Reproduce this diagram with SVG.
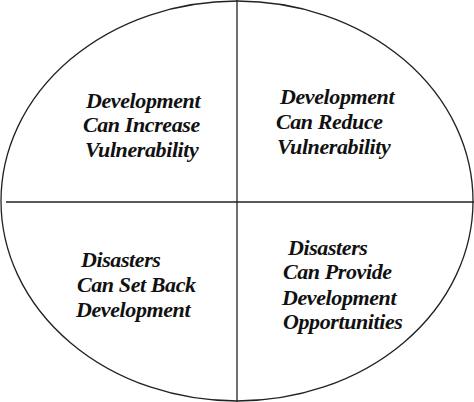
<svg xmlns="http://www.w3.org/2000/svg" width="474" height="402" viewBox="0 0 474 402">
<style>
.t{font-family:"Liberation Serif","Times New Roman",serif;font-weight:bold;font-style:italic;font-size:22px;letter-spacing:-0.4px;fill:#111}
.ln{stroke:#222;stroke-width:1.3;fill:none}
</style>
<rect width="474" height="402" fill="#fff"/>
<g id="connectors">
<ellipse class="ln" cx="237" cy="201" rx="236" ry="200"/>
<line class="ln" x1="237" y1="0" x2="237" y2="402"/>
<line class="ln" x1="6" y1="202" x2="474" y2="202"/>
</g>
<g id="q1">
<text class="t" x="86" y="108">Development</text>
<text class="t" x="83" y="132">Can Increase</text>
<text class="t" x="85" y="157">Vulnerability</text>
</g>
<g id="q2">
<text class="t" x="280" y="104">Development</text>
<text class="t" x="276" y="129">Can Reduce</text>
<text class="t" x="277" y="154">Vulnerability</text>
</g>
<g id="q3">
<text class="t" x="81" y="267">Disasters</text>
<text class="t" x="77" y="292">Can Set Back</text>
<text class="t" x="76" y="317">Development</text>
</g>
<g id="q4">
<text class="t" x="288" y="255">Disasters</text>
<text class="t" x="283" y="279">Can Provide</text>
<text class="t" x="282" y="305">Development</text>
<text class="t" x="283" y="329">Opportunities</text>
</g>
</svg>
